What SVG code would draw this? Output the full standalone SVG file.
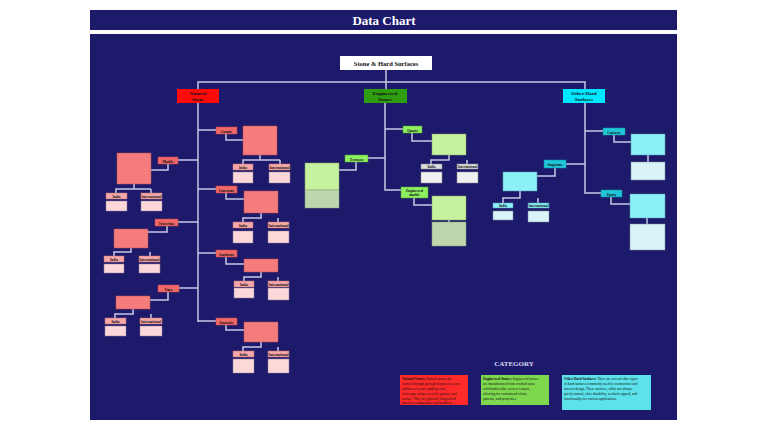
<svg xmlns="http://www.w3.org/2000/svg" width="768" height="431" viewBox="0 0 768 431">
<style>
text{font-family:"Liberation Serif",serif;font-weight:bold;text-anchor:middle;fill:#111}
.c path{fill:none;stroke:#c8c8e6;stroke-width:1.5}
.ns{fill:#ff0a0a}.nn{fill:#f06868;stroke:#c04848;stroke-width:.5}.nd{fill:#f47c7c;stroke:#c05050;stroke-width:.5}
.ni{fill:#f6a8a8;stroke:#c07070;stroke-width:.5}.np{fill:#fcd8d8;stroke:#9080a0;stroke-width:.5}
.es{fill:#2e9e10}.en{fill:#8ef060;stroke:#50a030;stroke-width:.5}.ed{fill:#c6f2a0;stroke:#80a060;stroke-width:.5}.e2{fill:#c0d6ae;stroke:#80a070;stroke-width:.5}
.eg{fill:#dcdcdc;stroke:#909090;stroke-width:.5}.ep{fill:#f0f0f0;stroke:#909090;stroke-width:.5}
.os{fill:#00e8ff}.on{fill:#20c6d8;stroke:#1090a0;stroke-width:.5}.od{fill:#8cf0f8;stroke:#50a0b0;stroke-width:.5}.op{fill:#d8f4f8;stroke:#7090a0;stroke-width:.5}
.s{font-size:3.5px}.m{font-size:5px}.l{font-size:5.5px}
</style>
<rect width="768" height="431" fill="#fff"/>
<rect x="90" y="10" width="587" height="20" fill="#1e1a6b"/>
<text x="384" y="25" style="font-size:13px;fill:#fff">Data Chart</text>
<rect x="90" y="34" width="587" height="386" fill="#1e1a6b"/>
<g class="c">
<path d="M386 70V82M198 89V82H585V89M386 82V89"/>
<path d="M198 103V322M198 130H216M226 134V140H243M260 155V160H243V164M280 160H243M280 160V164M198 160H178M168 164V170H151M134 184V189H116V193M151 189V193M116 189H151"/>
<path d="M198 189H216M226 193V199H244M261 213V218H243V222M278 218V222M198 222H178M167 226V232H148M131 248V252H114V256M150 252V256M198 253H216M226 257V264H244M261 272V277H244V281M278 277V281M198 288H179M168 292V300H150M133 309V314H115V318M151 314V318M198 321H216M226 325V330H244M261 342V347H243V351M278 347V351"/>
<path d="M385 103V190H401M385 129H403M412 133V141H432M449 155V160H431V164M467 160V164M385 158H368M356 162V170H339M322 190V190M414 198V205H432M449 220V222"/>
<path d="M585 103V193H601M585 131H603M614 135V142H631M648 155V162M585 164H566M555 168V176H537M520 191V198H503V203M538 198V203M611 197V204H630M647 218V224"/>
</g>
<g id="root"><rect x="340" y="56" width="92" height="14" fill="#fff"/><text x="386" y="66" class="l" style="font-size:6.5px">Stone &amp; Hard Surfaces</text></g>
<g id="natural"><rect x="177" y="89" width="42" height="14" class="ns"/><text x="198" y="95" class="m">Natural</text><text x="198" y="101" class="m">Stone</text></g>
<g id="engineered"><rect x="364" y="89" width="43" height="14" class="es"/><text x="385" y="95" class="m">Engineered</text><text x="385" y="101" class="m">Stones</text></g>
<g id="other"><rect x="563" y="89" width="42" height="14" class="os"/><text x="584" y="95" class="m">Other Hard</text><text x="584" y="101" class="m">Surfaces</text></g>

<g id="granite"><rect x="216" y="127" width="21" height="7" class="nn"/><text x="226.5" y="132.5" class="s">Granite</text><rect x="243" y="126" width="34" height="29" class="nd"/><rect x="233" y="164" width="20" height="6" class="ni"/><text x="243" y="168.5" class="s">India</text><rect x="269" y="164" width="21" height="6" class="ni"/><text x="279.5" y="168.5" class="s">International</text><rect x="233" y="172" width="20" height="11" class="np"/><rect x="269" y="172" width="21" height="11" class="np"/></g>
<g id="marble"><rect x="158" y="157" width="20" height="7" class="nn"/><text x="168" y="162.5" class="s">Marble</text><rect x="117" y="153" width="34" height="31" class="nd"/><rect x="106" y="193" width="21" height="6" class="ni"/><text x="116.5" y="197.5" class="s">India</text><rect x="141" y="193" width="21" height="6" class="ni"/><text x="151.5" y="197.5" class="s">International</text><rect x="106" y="201" width="21" height="10" class="np"/><rect x="141" y="201" width="21" height="10" class="np"/></g>
<g id="limestone"><rect x="216" y="186" width="21" height="7" class="nn"/><text x="226.5" y="191.5" class="s">Limestone</text><rect x="244" y="191" width="34" height="22" class="nd"/><rect x="233" y="222" width="20" height="6" class="ni"/><text x="243" y="226.5" class="s">India</text><rect x="268" y="222" width="21" height="6" class="ni"/><text x="278.5" y="226.5" class="s">International</text><rect x="233" y="231" width="20" height="12" class="np"/><rect x="268" y="231" width="21" height="12" class="np"/></g>
<g id="travertine"><rect x="155" y="219" width="23" height="7" class="nn"/><text x="166.5" y="224.5" class="s">Travertine</text><rect x="114" y="229" width="34" height="19" class="nd"/><rect x="104" y="256" width="20" height="6" class="ni"/><text x="114" y="260.5" class="s">India</text><rect x="139" y="256" width="21" height="6" class="ni"/><text x="149.5" y="260.5" class="s">International</text><rect x="104" y="264" width="20" height="9" class="np"/><rect x="139" y="264" width="21" height="9" class="np"/></g>
<g id="sandstone"><rect x="216" y="250" width="21" height="7" class="nn"/><text x="226.5" y="255.5" class="s">Sandstone</text><rect x="244" y="259" width="34" height="13" class="nd"/><rect x="234" y="281" width="20" height="6" class="ni"/><text x="244" y="285.5" class="s">India</text><rect x="268" y="281" width="21" height="6" class="ni"/><text x="278.5" y="285.5" class="s">International</text><rect x="234" y="288" width="20" height="10" class="np"/><rect x="268" y="288" width="21" height="12" class="np"/></g>
<g id="onyx"><rect x="158" y="285" width="21" height="7" class="nn"/><text x="168.5" y="290.5" class="s">Onyx</text><rect x="116" y="296" width="34" height="13" class="nd"/><rect x="105" y="318" width="21" height="6" class="ni"/><text x="115.5" y="322.5" class="s">India</text><rect x="140" y="318" width="22" height="6" class="ni"/><text x="151" y="322.5" class="s">International</text><rect x="105" y="326" width="21" height="10" class="np"/><rect x="140" y="326" width="22" height="10" class="np"/></g>
<g id="quartzite"><rect x="216" y="318" width="21" height="7" class="nn"/><text x="226.5" y="323.5" class="s">Quartzite</text><rect x="244" y="322" width="34" height="20" class="nd"/><rect x="233" y="351" width="21" height="6" class="ni"/><text x="243.5" y="355.5" class="s">India</text><rect x="268" y="351" width="21" height="6" class="ni"/><text x="278.5" y="355.5" class="s">International</text><rect x="233" y="359" width="21" height="14" class="np"/><rect x="268" y="359" width="21" height="14" class="np"/></g>

<g id="quartz"><rect x="403" y="126" width="19" height="7" class="en"/><text x="412.5" y="131.5" class="s">Quartz</text><rect x="432" y="134" width="34" height="21" class="ed"/><rect x="421" y="164" width="21" height="5" class="eg"/><text x="431.5" y="168" class="s">India</text><rect x="457" y="164" width="21" height="5" class="eg"/><text x="467.5" y="168" class="s">International</text><rect x="421" y="172" width="21" height="11" class="ep"/><rect x="457" y="172" width="21" height="11" class="ep"/></g>
<g id="terrazzo"><rect x="345" y="155" width="23" height="7" class="en"/><text x="356.5" y="160.5" class="s">Terrazzo</text><rect x="305" y="163" width="34" height="27" class="ed"/><rect x="305" y="190" width="34" height="18" class="e2"/></g>
<g id="emarble"><rect x="401" y="187" width="27" height="11" class="en"/><text x="414.5" y="191.5" class="s">Engineered</text><text x="414.5" y="196" class="s">marble</text><rect x="432" y="196" width="34" height="24" class="ed"/><rect x="432" y="222" width="34" height="24" class="e2"/></g>

<g id="concrete"><rect x="603" y="128" width="22" height="7" class="on"/><text x="614" y="133.5" class="s">Concrete</text><rect x="631" y="134" width="34" height="21" class="od"/><rect x="631" y="162" width="34" height="18" class="op"/></g>
<g id="soapstone"><rect x="544" y="160" width="22" height="8" class="on"/><text x="555" y="165.5" class="s">Soapstone</text><rect x="503" y="172" width="34" height="19" class="od"/><rect x="493" y="203" width="20" height="5" class="od"/><text x="503" y="207" class="s">India</text><rect x="528" y="203" width="21" height="5" class="od"/><text x="538.5" y="207" class="s">International</text><rect x="493" y="211" width="20" height="9" class="op"/><rect x="528" y="211" width="21" height="11" class="op"/></g>
<g id="epoxy"><rect x="601" y="190" width="21" height="7" class="on"/><text x="611.5" y="195.5" class="s">Epoxy</text><rect x="630" y="194" width="35" height="24" class="od"/><rect x="630" y="224" width="35" height="26" class="op"/></g>

<g id="legend">
<text x="514" y="366" style="font-size:7px;fill:#d8d8ee">CATEGORY</text>
<rect x="400" y="375" width="68" height="30" fill="#ff2a2a"/>
<text x="402" y="380" class="s" style="text-anchor:start;font-weight:normal"><tspan x="402" style="font-weight:bold">Natural Stones:</tspan> Natural stones are</text>
<text class="s" style="text-anchor:start;font-weight:normal"><tspan x="402" y="385">formed through geological processes over</tspan><tspan x="402" y="390">millions of years, making each</tspan><tspan x="402" y="395">stone type unique in color, pattern, and</tspan><tspan x="402" y="400">texture. They are typically categorized</tspan><tspan x="402" y="404">based on composition and hardness.</tspan></text>
<rect x="481" y="375" width="68" height="30" fill="#7ed84e"/>
<text class="s" style="text-anchor:start;font-weight:normal"><tspan x="483" y="380"><tspan style="font-weight:bold">Engineered Stones:</tspan> Engineered stones</tspan><tspan x="483" y="385">are manufactured from crushed stone</tspan><tspan x="483" y="390">with binders like resin or cement,</tspan><tspan x="483" y="395">allowing for customized colors,</tspan><tspan x="483" y="400">patterns, and properties.</tspan></text>
<rect x="562" y="375" width="89" height="35" fill="#5ce2ea"/>
<text class="s" style="text-anchor:start;font-weight:normal"><tspan x="564" y="380"><tspan style="font-weight:bold">Other Hard Surfaces:</tspan> There are several other types</tspan><tspan x="564" y="385">of hard surfaces commonly used in construction and</tspan><tspan x="564" y="390">interior design. These surfaces, while not always</tspan><tspan x="564" y="395">purely natural, offer durability, aesthetic appeal, and</tspan><tspan x="564" y="400">functionality for various applications.</tspan></text>
</g>
</svg>
